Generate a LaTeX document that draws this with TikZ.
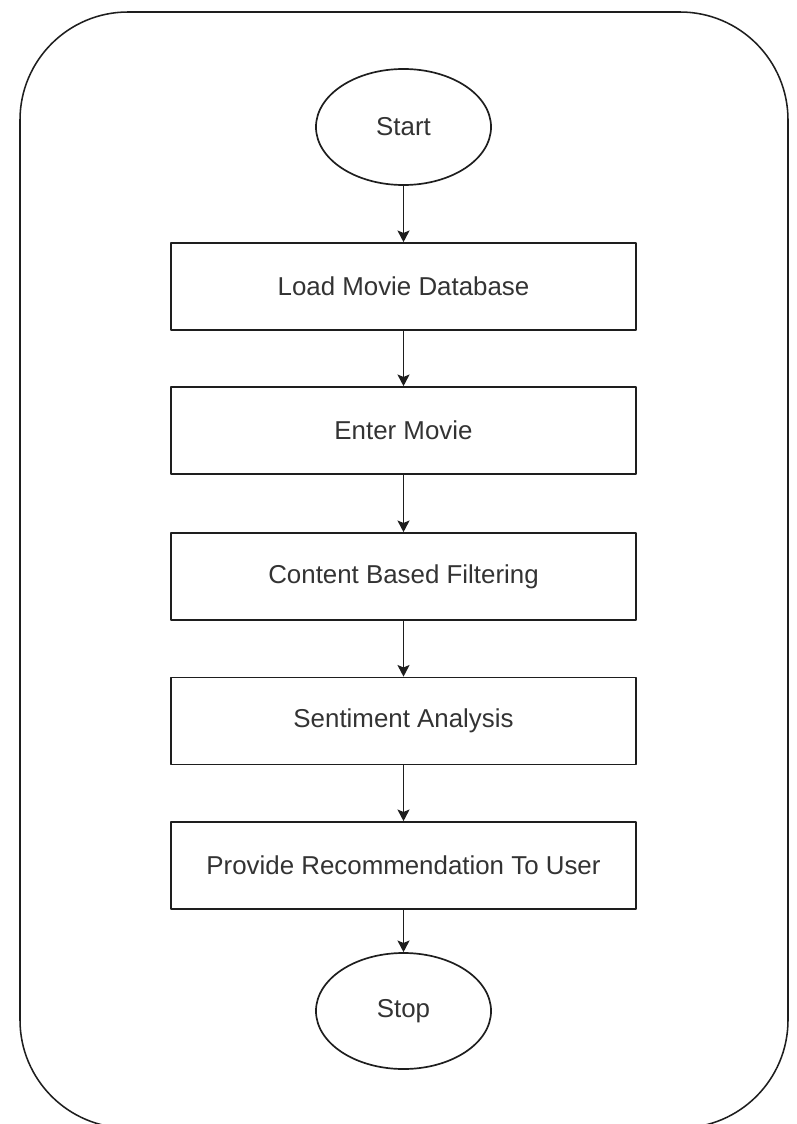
\documentclass[tikz,border=0pt]{standalone}
\usepackage{fontspec}
\setmainfont{Liberation Sans}
\usetikzlibrary{arrows.meta, shapes.geometric}
\definecolor{textgray}{RGB}{51,51,51}
\definecolor{linegray}{RGB}{30,30,30}

\begin{document}
\begin{tikzpicture}[
    x=0.025cm, y=-0.025cm,
    >={Stealth[length=0.29cm,width=0.3cm,inset=0.06cm]},
    line join=round,
    lbl/.style={font=\fontsize{18.4}{22}\selectfont, text=textgray},
    terminal/.style={lbl, ellipse, draw=linegray, line width=1.2pt,
        inner sep=0pt, minimum width=4.375cm, minimum height=2.9cm},
    process/.style={lbl, rectangle, draw=linegray, line width=1.2pt,
        inner sep=0pt, minimum width=11.625cm, minimum height=2.175cm},
    flow/.style={->, draw=linegray, line width=1.1pt},
]

% ── Page frame ──────────────────────────────────────────────────────────────
\useasboundingbox (0,0) rectangle (796,1124);
\draw[linegray, line width=1.1pt, rounded corners=2.7cm]
    (20,12) rectangle (788,1128);

% ── Flowchart nodes (centre x = 403.5) ──────────────────────────────────────
\node[terminal] (start)  at (403.5,127)   {Start};
\node[process]  (load)   at (403.5,286.5) {Load Movie Database};
\node[process]  (enter)  at (403.5,430.5) {Enter Movie};
\node[process]  (filter) at (403.5,576.5) {Content Based Filtering};
\node[process]  (senti)  at (403.5,721)   {Sentiment Analysis};
\node[process]  (recom)  at (403.5,865.5) {Provide Recommendation To User};
\node[terminal] (stop)   at (403.5,1011)  {Stop};

% ── Connectors ──────────────────────────────────────────────────────────────
\draw[flow] (start) -- (load);
\draw[flow] (load)  -- (enter);
\draw[flow] (enter) -- (filter);
\draw[flow] (filter) -- (senti);
\draw[flow] (senti) -- (recom);
\draw[flow] (recom) -- (stop);

\end{tikzpicture}
\end{document}
